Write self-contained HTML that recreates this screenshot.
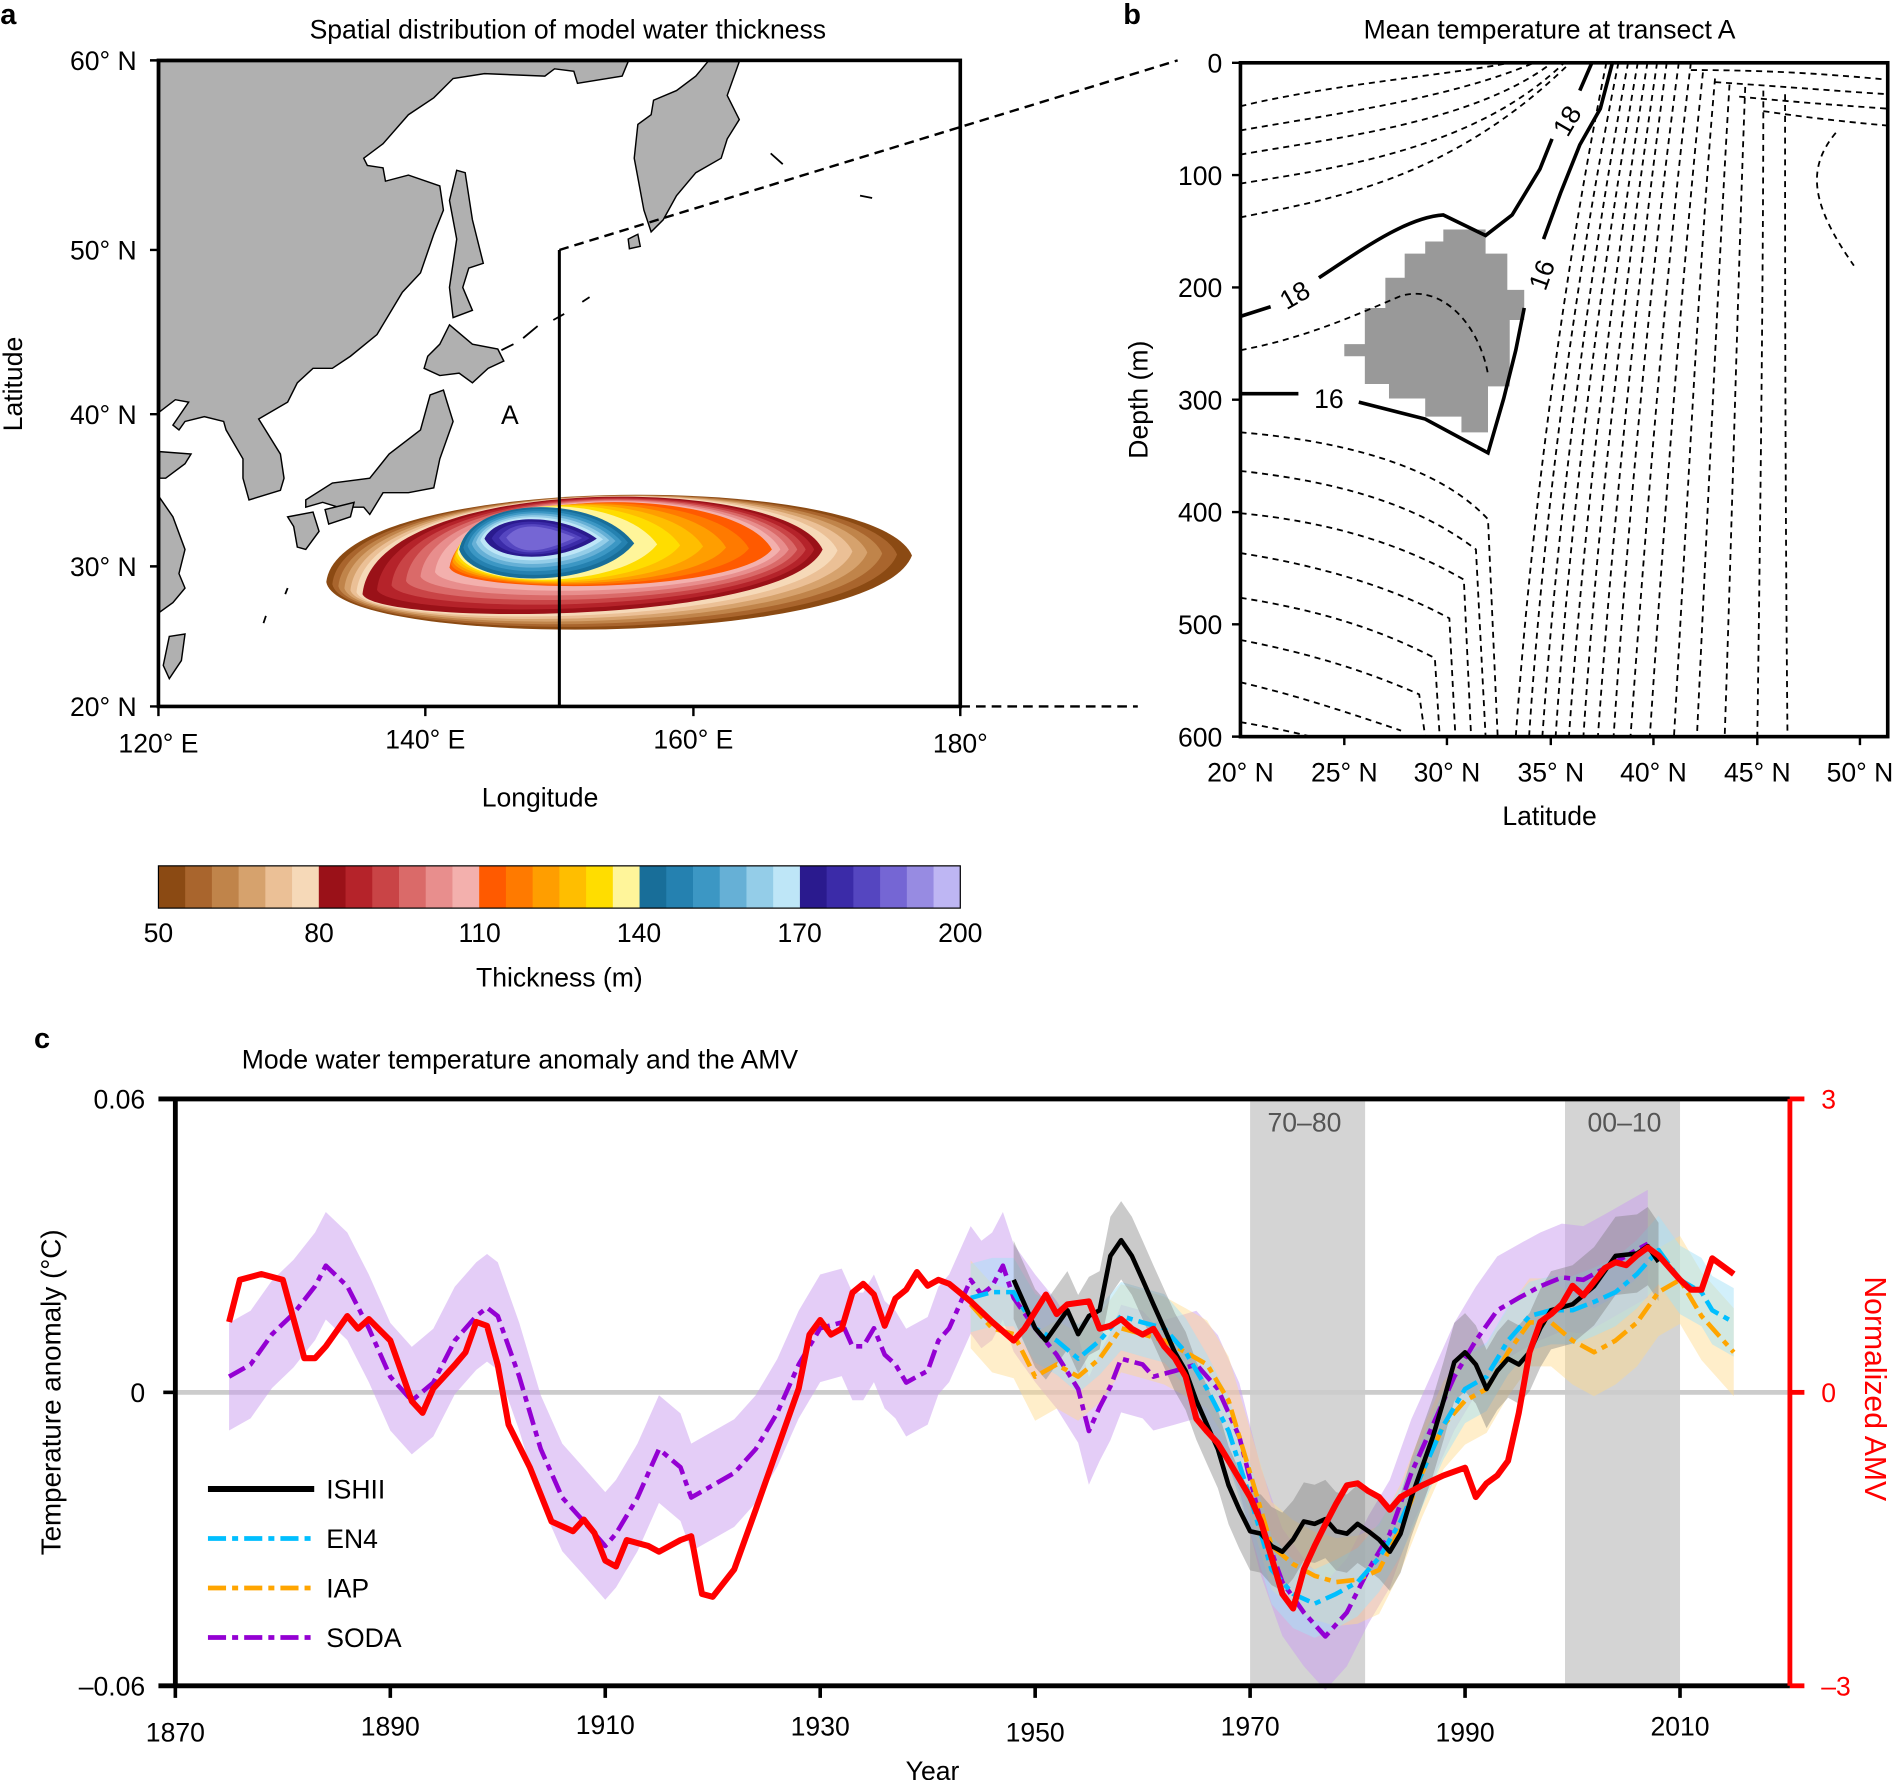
<!DOCTYPE html>
<html><head><meta charset="utf-8"><style>
html,body{margin:0;padding:0;background:#fff}
svg{display:block;font-family:"Liberation Sans",Arial,sans-serif}
</style></head><body>
<svg id="fig" width="1894" height="1780" viewBox="0 0 1568 1474" xmlns="http://www.w3.org/2000/svg">
<!-- Panel a -->
<g>
<text x="0" y="20" font-size="24" font-weight="bold">a</text>
<text x="470" y="32" font-size="22" text-anchor="middle">Spatial distribution of model water thickness</text>
<g id="land" fill="#b0b0b0" stroke="#000" stroke-width="1.2">
<polygon points="132,51 520,51 515,63 478,69 475,59 459,57 451,63 401,61 375,65 359,81 338,95 317,119 301,131 304,137 317,139 319,150 338,145 364,154 367,174 359,194 348,226 333,242 312,277 290,295 275,305 259,305 246,317 238,333 214,347 232,376 235,396 232,406 206,414 201,396 201,380 187,356 185,349 169,345 153,349 148,356 143,352 156,333 145,331 132,341"/>
<polygon points="132,374 158,376 153,384 137,396 132,396"/>
<polygon points="132,412 143,428 153,455 148,475 153,487 143,499 132,507"/>
<polygon points="140,527 153,525 150,547 140,562 135,551"/>
<polygon points="378,141 385,143 391,182 400,218 388,222 383,238 391,257 375,263 372,238 378,198 372,166"/>
<polygon points="372,269 391,285 412,289 417,299 404,305 391,317 380,309 364,311 351,305 354,295 364,285"/>
<polygon points="356,327 367,323 370,333 375,349 364,380 359,404 338,408 317,408 306,426 301,420 280,420 267,416 253,420 253,414 275,400 306,396 322,376 348,356"/>
<polygon points="238,428 259,424 264,440 253,455 246,453 243,436"/>
<polygon points="269,422 293,416 290,428 272,434"/>
<polygon points="586,51 612,51 602,79 612,99 602,115 597,131 576,143 560,162 549,182 539,192 533,174 525,131 528,103 539,95 541,83 560,75 576,63"/>
<polygon points="520,198 528,194 530,204 521,206"/>
</g>
<g stroke="#000" stroke-width="1.5" fill="none">
<path d="M638,127 L648,136 M712,162 L722,164 M415,290 L425,285 M433,280 L445,270 M458,265 L467,260 M482,250 L488,246 M238,487 L236,492 M220,510 L218,516"/>
</g>
<g id="blob"></g>
<rect x="131" y="50" width="664" height="535" fill="none" stroke="#000" stroke-width="3"/>
<line x1="463" y1="207" x2="463" y2="585" stroke="#000" stroke-width="2.5"/>
<line x1="463" y1="207" x2="975" y2="50" stroke="#000" stroke-width="2" stroke-dasharray="8,5"/>
<line x1="795" y1="585" x2="942" y2="585" stroke="#000" stroke-width="2" stroke-dasharray="8,5"/>
<text x="422" y="351" font-size="22" text-anchor="middle">A</text>
<g font-size="22" text-anchor="end">
<text x="113" y="58">60° N</text><text x="113" y="215">50° N</text><text x="113" y="351">40° N</text><text x="113" y="477">30° N</text><text x="113" y="593">20° N</text></g>
<g stroke="#000" stroke-width="2"><path d="M124,50h7M124,207h7M124,343h7M124,469h7M124,585h7M131,585v8M352,585v8M574,585v8M795,585v8"/></g>
<g font-size="22" text-anchor="middle">
<text x="131" y="623">120° E</text><text x="352" y="620">140° E</text><text x="574" y="620">160° E</text><text x="795" y="623">180°</text></g>
<text x="447" y="668" font-size="22" text-anchor="middle">Longitude</text>
<text x="18" y="318" font-size="22" text-anchor="middle" transform="rotate(-90 18 318)">Latitude</text>
<g id="cbar"></g>
<rect x="131" y="717" width="664" height="35" fill="none" stroke="#000" stroke-width="1"/>
<g font-size="22" text-anchor="middle">
<text x="131" y="780">50</text><text x="264" y="780">80</text><text x="397" y="780">110</text><text x="529" y="780">140</text><text x="662" y="780">170</text><text x="795" y="780">200</text></g>
<text x="463" y="817" font-size="22" text-anchor="middle">Thickness (m)</text>
</g>
<!-- Panel b -->
<g>
<text x="930" y="20" font-size="24" font-weight="bold">b</text>
<text x="1283" y="32" font-size="22" text-anchor="middle">Mean temperature at transect A</text>
<polygon fill="#999" points="1195,190 1230,190 1230,210 1248,210 1248,240 1262,240 1262,265 1250,265 1250,320 1232,320 1232,358 1210,358 1210,345 1180,345 1180,330 1150,330 1150,318 1130,318 1130,295 1113,295 1113,285 1130,285 1130,255 1147,255 1147,230 1163,230 1163,210 1180,210 1180,200 1195,200"/>
<g fill="none" stroke="#000" stroke-width="1.5" stroke-dasharray="5,4">
<path d="M1027,88 C1100,70 1200,62 1250,52"/>
<path d="M1027,108 C1100,95 1200,82 1270,52"/>
<path d="M1027,128 C1100,115 1220,102 1285,52"/>
<path d="M1027,152 C1100,140 1220,125 1295,52"/>
<path d="M1027,180 C1100,165 1200,150 1300,52"/>
<path d="M1027,290 C1080,280 1120,262 1160,245 C1195,235 1225,270 1232,310"/>
<path d="M1027,358 C1110,365 1190,385 1232,430 L1240,610"/>
<path d="M1027,390 C1100,398 1170,415 1222,455 L1230,610"/>
<path d="M1027,425 C1100,432 1160,450 1212,480 L1218,610"/>
<path d="M1027,458 C1090,468 1150,485 1200,512 L1205,610"/>
<path d="M1027,495 C1090,505 1140,520 1188,545 L1192,610"/>
<path d="M1027,530 C1080,540 1130,555 1175,575 L1180,610"/>
<path d="M1027,565 C1070,575 1110,588 1160,605"/>
<path d="M1027,598 C1050,602 1070,606 1085,610"/>
<path d="M1330,52 C1300,200 1270,400 1255,610"/>
<path d="M1340,52 C1310,200 1280,400 1266,610"/>
<path d="M1348,52 C1320,200 1292,400 1277,610"/>
<path d="M1356,52 C1330,200 1302,400 1288,610"/>
<path d="M1364,52 C1340,200 1314,400 1299,610"/>
<path d="M1372,52 C1350,200 1325,400 1311,610"/>
<path d="M1380,52 C1360,200 1338,400 1323,610"/>
<path d="M1390,52 C1370,200 1350,400 1336,610"/>
<path d="M1400,52 C1382,200 1365,400 1350,610"/>
<path d="M1410,60 C1395,200 1380,400 1366,610"/>
<path d="M1420,65 C1408,200 1398,400 1386,610"/>
<path d="M1432,70 C1424,200 1415,400 1405,610"/>
<path d="M1445,72 C1440,200 1435,400 1428,610"/>
<path d="M1460,75 C1460,200 1458,400 1455,610"/>
<path d="M1478,78 C1478,200 1478,400 1480,610"/>
<path d="M1400,58 C1470,58 1520,62 1563,66"/>
<path d="M1420,68 C1480,72 1530,76 1563,78"/>
<path d="M1440,80 C1490,85 1535,88 1563,90"/>
<path d="M1460,92 C1500,98 1540,102 1563,104"/>
<path d="M1520,110 C1495,140 1500,170 1535,220"/>
</g>
<g fill="none" stroke="#000" stroke-width="3">
<path d="M1027,262 L1052,254 M1092,230 C1130,205 1165,180 1195,178 L1230,195 L1252,178 L1275,140 L1285,115 M1308,75 L1318,52"/>
<path d="M1027,326 L1075,326 M1125,333 L1180,347 L1232,375 L1245,330 L1255,290 L1262,255 M1278,198 L1292,160 L1308,120 L1325,90 L1335,52"/>
</g>
<g font-size="22">
<text x="1060" y="252" transform="rotate(-30 1072 245)">18</text>
<text x="1285" y="108" transform="rotate(-60 1297 100)">18</text>
<text x="1088" y="338">16</text>
<text x="1265" y="235" transform="rotate(-70 1277 228)">16</text>
</g>
<rect x="1027" y="52" width="536" height="558" fill="none" stroke="#000" stroke-width="3"/>
<g font-size="22" text-anchor="end">
<text x="1012" y="60">0</text><text x="1012" y="153">100</text><text x="1012" y="246">200</text><text x="1012" y="339">300</text><text x="1012" y="432">400</text><text x="1012" y="525">500</text><text x="1012" y="618">600</text></g>
<g stroke="#000" stroke-width="2"><path d="M1020,52h7M1020,145h7M1020,238h7M1020,331h7M1020,424h7M1020,517h7M1020,610h7M1113,610v7M1198,610v7M1284,610v7M1369,610v7M1455,610v7M1540,610v7"/></g>
<g font-size="22" text-anchor="middle">
<text x="1027" y="647">20° N</text><text x="1113" y="647">25° N</text><text x="1198" y="647">30° N</text><text x="1284" y="647">35° N</text><text x="1369" y="647">40° N</text><text x="1455" y="647">45° N</text><text x="1540" y="647">50° N</text></g>
<text x="1283" y="683" font-size="22" text-anchor="middle">Latitude</text>
<text x="950" y="331" font-size="22" text-anchor="middle" transform="rotate(-90 950 331)">Depth (m)</text>
</g>
<!-- Panel c -->
<g>
<text x="28" y="868" font-size="24" font-weight="bold">c</text>
<text x="200" y="885" font-size="22">Mode water temperature anomaly and the AMV</text>
<g id="bands"></g>
<line x1="145" y1="1153" x2="1482" y2="1153" stroke="#cccccc" stroke-width="4"/>
<g id="shades"></g>
<g id="lines"></g>
<line x1="131" y1="910" x2="1482" y2="910" stroke="#000" stroke-width="4"/>
<line x1="131" y1="1396" x2="1482" y2="1396" stroke="#000" stroke-width="4"/>
<line x1="145" y1="910" x2="145" y2="1396" stroke="#000" stroke-width="4"/>
<line x1="1482" y1="910" x2="1482" y2="1396" stroke="#ff0000" stroke-width="4"/>
<g id="axes"></g>
<text x="1080" y="937" font-size="22" fill="#555" text-anchor="middle">70–80</text>
<text x="1345" y="937" font-size="22" fill="#555" text-anchor="middle">00–10</text>
<text x="772" y="1474" font-size="22" text-anchor="middle">Year</text>
<text x="50" y="1153" font-size="23" text-anchor="middle" transform="rotate(-90 50 1153)">Temperature anomaly (°C)</text>
<text x="1544" y="1150" font-size="25" fill="#ff0000" text-anchor="middle" transform="rotate(90 1544 1150)">Normalized AMV</text>
<g id="legend"></g>
</g>
</svg>
<script>
// ---------- Panel c data ----------
const sodaYears=[1875,1877,1879,1881,1883,1884,1886,1888,1890,1892,1894,1896,1898,1899,1900,1902,1904,1906,1908,1910,1911,1913,1915,1917,1918,1920,1922,1924,1926,1928,1930,1932,1933,1934,1935,1936,1937,1938,1939,1940,1941,1942,1944,1945,1946,1947,1948,1950,1952,1954,1955,1956,1957,1958,1960,1961,1963,1965,1967,1969,1971,1973,1975,1977,1979,1981,1983,1985,1987,1989,1991,1993,1995,1997,1999,2001,2003,2005,2007];
// values in 0.001 °C
const sodaValues=[3.2,5.7,11.9,16.1,21.7,25.9,21.7,13.1,3.2,-1.7,2.0,10.6,15.6,17.3,15.6,3.2,-11.6,-21.5,-26.4,-31.4,-28.9,-21.5,-11.6,-15.3,-21.5,-19.0,-16.5,-11.6,-4.2,5.7,13.1,14.3,9.4,9.4,13.1,7.7,5.7,2.0,3.2,4.4,10.6,13.1,23.0,20.0,21.7,25.9,19.3,13.1,7.7,0.7,-7.9,-3.0,1.2,6.9,5.7,3.2,4.4,5.7,0.7,-9.1,-26.4,-38.8,-45.0,-49.9,-45.0,-36.3,-28.9,-16.5,-6.7,3.2,10.6,16.8,19.3,21.7,23.5,23.0,25.4,27.9,30.4];
const ishiiYears=[1948,1950,1951,1953,1954,1955,1956,1957,1958,1959,1960,1961,1962,1963,1964,1965,1966,1967,1968,1969,1970,1971,1972,1973,1974,1975,1976,1977,1978,1979,1980,1981,1982,1983,1984,1985,1986,1987,1988,1989,1990,1991,1992,1993,1994,1995,1996,1997,1998,2000,2002,2004,2006,2007,2008];
const ishiiValues=[23,13.1,10.6,16.8,11.9,15.6,16.8,27.9,31.1,27.9,23,18,13.1,8.2,4.4,-1.7,-6.7,-11.6,-19,-24,-28.4,-28.9,-31.4,-32.6,-30.1,-26.4,-26.9,-25.9,-28.4,-28.9,-26.9,-28.4,-30.1,-32.6,-28.9,-21.5,-15.3,-9.1,-1.7,6.2,8.2,5.7,0.7,4.4,6.9,5.7,8.2,13.1,16.8,18,21.7,27.9,28.4,29.9,26.7];
const en4Years=[1944,1946,1948,1950,1952,1954,1956,1958,1960,1962,1964,1966,1968,1970,1972,1974,1976,1978,1980,1982,1984,1986,1988,1990,1992,1994,1996,1998,2000,2002,2004,2006,2008,2010,2012,2013,2015];
const en4Values=[19.3,20.5,20.5,13.1,10.6,6.9,10.6,15.6,14.3,13.1,8.2,0.7,-7.9,-21.5,-36.3,-41.2,-43.2,-41.2,-38.8,-33.8,-26.4,-16.5,-6.7,0.7,3.2,10.6,15.6,16.8,16.8,18.5,20.5,24.2,29.1,23,20.5,16.8,14.3];
const iapYears=[1944,1946,1948,1950,1952,1954,1956,1958,1960,1962,1964,1966,1968,1970,1972,1974,1976,1978,1980,1982,1984,1986,1988,1990,1992,1994,1996,1998,2000,2002,2004,2006,2008,2010,2012,2015];
const iapValues=[18,13.1,11.9,3.2,5.7,3.2,6.9,13.1,11.9,10.6,8.2,5.7,-1.7,-16.5,-31.4,-35.1,-37.5,-38.8,-38.3,-36.3,-27.7,-16.5,-6.7,-1.7,0.7,8.2,14.3,14.3,10.6,8.2,10.6,14.3,20.5,23,15.6,8.2];
const amvYears=[1875,1876,1878,1880,1882,1883,1884,1886,1887,1888,1890,1892,1893,1894,1896,1897,1898,1899,1900,1901,1903,1905,1907,1908,1909,1910,1911,1912,1914,1915,1917,1918,1919,1920,1922,1924,1926,1928,1929,1930,1931,1932,1933,1934,1935,1936,1937,1938,1939,1940,1941,1942,1943,1944,1946,1948,1949,1951,1952,1953,1955,1956,1957,1958,1959,1960,1961,1962,1963,1964,1965,1966,1967,1968,1970,1971,1972,1973,1974,1975,1976,1977,1978,1979,1980,1981,1982,1983,1984,1986,1988,1990,1991,1992,1993,1994,1995,1996,1997,1998,1999,2000,2001,2003,2004,2005,2006,2007,2008,2010,2011,2012,2013,2015];
const amvValues=[0.72,1.15,1.21,1.15,0.35,0.35,0.47,0.78,0.65,0.75,0.53,-0.09,-0.21,0.04,0.28,0.41,0.72,0.68,0.28,-0.33,-0.77,-1.32,-1.42,-1.30,-1.44,-1.72,-1.78,-1.51,-1.57,-1.63,-1.51,-1.47,-2.06,-2.09,-1.81,-1.20,-0.58,0.04,0.59,0.74,0.59,0.65,1.02,1.11,1.0,0.68,0.96,1.05,1.23,1.09,1.15,1.11,1.02,0.93,0.72,0.53,0.65,1.0,0.80,0.90,0.93,0.65,0.68,0.75,0.65,0.59,0.65,0.47,0.35,0.16,-0.27,-0.40,-0.52,-0.70,-1.07,-1.32,-1.69,-2.06,-2.21,-1.81,-1.57,-1.35,-1.14,-0.95,-0.93,-1.01,-1.07,-1.20,-1.07,-0.95,-0.85,-0.77,-1.07,-0.93,-0.85,-0.70,-0.21,0.41,0.72,0.80,0.90,1.09,0.99,1.27,1.33,1.30,1.40,1.48,1.40,1.15,1.05,1.05,1.37,1.21];
const sodaSpread=[11];
const ishiiSpread=[8];
const en4Spread=[7];
const iapSpread=[9];
const xTicks=[1870,1890,1910,1930,1950,1970,1990,2010];
const yTicksLeft=[0.06,0,-0.06];
const yTickLabelsLeft=["0.06","0","–0.06"];
const yTicksRight=[3,0,-3];
const yTickLabelsRight=["3","0","–3"];
const periodStarts=[1970,1999.3];
const periodEnds=[1980.7,2010];
const legendLabels=["ISHII","EN4","IAP","SODA"];

// axis functions
const X0=145,PX_PER_YEAR=8.9,YZ=1153,H_HALF=243;
function xs(yr){return X0+(yr-1870)*PX_PER_YEAR;}
function yt(mk){return YZ-(mk/1000)/0.06*H_HALF;}
function ya(a){return YZ-a/3*H_HALF;}

const NS='http://www.w3.org/2000/svg';
function mk(tag,attrs,parent){const e=document.createElementNS(NS,tag);for(const k in attrs)e.setAttribute(k,attrs[k]);parent.appendChild(e);return e;}

// period bands
const bandsG=document.getElementById('bands');
for(let i=0;i<periodStarts.length;i++){
  const r=mk('rect',{x:xs(periodStarts[i]),y:912,width:xs(periodEnds[i])-xs(periodStarts[i]),height:482,fill:'#d4d4d4'},bandsG);
  
  
}

// shades
const shadesG=document.getElementById('shades');
function shade(years,vals,spread,color,opacity,name){
  let top=years.map((y,i)=>xs(y).toFixed(1)+','+yt(vals[i]+spread).toFixed(1));
  let bot=years.map((y,i)=>xs(y).toFixed(1)+','+yt(vals[i]-spread).toFixed(1)).reverse();
  const p=mk('polygon',{points:top.concat(bot).join(' '),fill:color,'fill-opacity':opacity},shadesG);
  
  
}
shade(sodaYears,sodaValues,sodaSpread[0],'#c99cf0',0.5,'soda-band');
shade(iapYears,iapValues,iapSpread[0],'#ffd98a',0.45,'iap-band');
shade(en4Years,en4Values,en4Spread[0],'#a6e2f7',0.5,'en4-band');
shade(ishiiYears,ishiiValues,ishiiSpread[0],'#7a7a7a',0.4,'ishii-band');

// lines
const linesG=document.getElementById('lines');
function line(years,vals,yf,color,w,dash,name){
  const d=years.map((y,i)=>(i?'L':'M')+xs(y).toFixed(1)+','+yf(vals[i]).toFixed(1)).join(' ');
  const p=mk('path',{d:d,fill:'none',stroke:color,'stroke-width':w,'stroke-linejoin':'round'},linesG);
  if(dash)p.setAttribute('stroke-dasharray',dash);
  
  
}
const DD='15,5,5,5';
line(sodaYears,sodaValues,yt,'#9400d3',3.8,DD,'soda-line');
line(iapYears,iapValues,yt,'#ffa500',3.8,DD,'iap-line');
line(en4Years,en4Values,yt,'#00bfff',3.8,DD,'en4-line');
line(ishiiYears,ishiiValues,yt,'#000000',3.8,null,'ishii-line');
line(amvYears,amvValues,ya,'#ff0000',5,null,'amv-line');

// axes ticks
const axG=document.getElementById('axes');
xTicks.forEach((t,i)=>{
  const l=mk('line',{x1:xs(t),x2:xs(t),y1:1396,y2:1406,stroke:'#000','stroke-width':3},axG);
  
  
  const tx=mk('text',{x:xs(t),y:(i%2==0?1442:1437)-(t==1910?6:0),'font-size':22,'text-anchor':'middle'},axG);
  tx.textContent=t;
  
  
});
yTicksLeft.forEach((v,i)=>{
  const y=yt(v*1000);
  const l=mk('line',{x1:135,x2:145,y1:y,y2:y,stroke:'#000','stroke-width':3},axG);
  
  
  const tx=mk('text',{x:120,y:y+8,'font-size':22,'text-anchor':'end'},axG);
  tx.textContent=yTickLabelsLeft[i];
  
  
});
yTicksRight.forEach((v,i)=>{
  const y=ya(v);
  const l=mk('line',{x1:1482,x2:1494,y1:y,y2:y,stroke:'#ff0000','stroke-width':4},axG);
  
  
  const tx=mk('text',{x:1508,y:y+8,'font-size':22,fill:'#ff0000'},axG);
  tx.textContent=yTickLabelsRight[i];
  
  
});

// legend
const lgG=document.getElementById('legend');
const lgColors=['#000000','#00bfff','#ffa500','#9400d3'];
legendLabels.forEach((lab,i)=>{
  const y=1233+i*41;
  const l=mk('line',{x1:172,x2:260,y1:y,y2:y,stroke:lgColors[i],'stroke-width':i==0?5:4},lgG);
  if(i>0)l.setAttribute('stroke-dasharray',DD);
  
  
  const tx=mk('text',{x:270,y:y+8,'font-size':22},lgG);
  tx.textContent=lab;
  
  
});

// ---------- Panel a colour scale ----------
const cbColors=['#8b4a13','#a9652d','#c0844a','#d6a26d','#ebc096','#f6d9b8',
'#9a1118','#b5232a','#c94446','#da6a69','#e88e8d','#f3b0ad',
'#ff5a00','#ff7a00','#ff9e00','#ffbe00','#ffdd00','#fff59a',
'#186e99','#2581b0','#3c97c4','#66b0d6','#94cde8','#bee6f7',
'#2a1a8e','#3b2ba8','#5546c0','#7566d4','#978be2','#beb6f3'];
const cbG=document.getElementById('cbar');
cbColors.forEach((c,i)=>{
  const r=mk('rect',{x:131+i*664/30,y:717,width:664/30+0.5,height:35,fill:c},cbG);
  
  
});
// thickness contour shapes (key levels)
const keyK=[0,6,12,18,24,28];
const keyL=[270,300,372,380,401,425];
const keyR=[755,681,639,525,494,470];
const keyT=[410,412,416,420,430,438];
const keyB=[521,507,485,479,461,454];
const keyYL=[482,492,470,455,446,445];
const keyYR=[460,455,455,450,446,445];
function interp(arr,k){for(let i=0;i<keyK.length-1;i++){if(k<=keyK[i+1]){const t=(k-keyK[i])/(keyK[i+1]-keyK[i]);return arr[i]+(arr[i+1]-arr[i])*t;}}return arr[arr.length-1];}
const blobG=document.getElementById('blob');
for(let k=0;k<=27;k++){
  const L=interp(keyL,k),R=interp(keyR,k),T=interp(keyT,k),B=interp(keyB,k),yl=interp(keyYL,k),yr=interp(keyYR,k);
  const ct=(8*T-yl-yr)/6, cb=(8*B-yl-yr)/6;
  const d=`M${L},${yl} C${L+10},${ct} ${R-30},${ct} ${R},${yr} C${R-30},${cb} ${L+10},${cb} ${L},${yl} Z`;
  const p=mk('path',{d:d,fill:cbColors[k]},blobG);
  
  
}
</script>
</body></html>
